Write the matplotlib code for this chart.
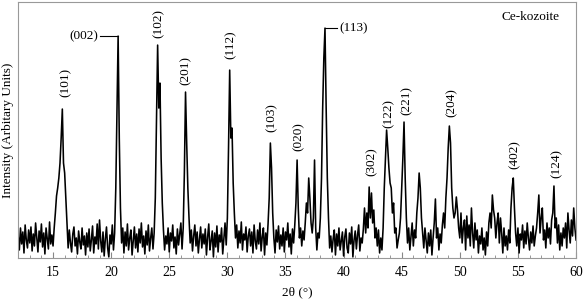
import numpy as np
import matplotlib.pyplot as plt

plt.rcParams['font.family'] = ['Liberation Serif', 'DejaVu Serif']

# intensity, 0.1 deg steps from 12.0 to 60.0 (arbitrary units)
intensity = [
    22, 8, 30, 14, 26, 5, 33, 18, 10, 28,        # 12
    15, 31, 7, 24, 12, 35, 20, 6, 27, 16,        # 13
    34, 11, 25, 4, 30, 19, 9, 36, 14, 23,        # 14
    12, 30, 45, 62, 70, 80, 95, 120, 149, 95,    # 15
    85, 60, 35, 10, 28, 15, 6, 24, 31, 12,       # 16
    20, 4, 27, 16, 9, 30, 13, 22, 3, 25,         # 17
    11, 29, 7, 18, 32, 5, 21, 14, 34, 9,         # 18
    38, 17, 6, 26, 2, 19, 31, 10, 1, 23,         # 19
    14, 33, 8, 25, 70, 145, 222, 120, 50, 15,    # 20
    30, 5, 26, 12, 34, 8, 20, 28, 3, 17,         # 21
    31, 10, 24, 6, 29, 15, 35, 11, 22, 4,        # 22
    27, 13, 33, 7, 20, 30, 9, 25, 60, 140,       # 23
    213, 150, 175, 100, 55, 28, 8, 22, 14, 30,   # 24
    6, 25, 17, 33, 10, 21, 4, 29, 13, 24,        # 25
    35, 9, 30, 85, 166, 115, 70, 40, 15, 28,     # 26
    7, 22, 33, 12, 26, 5, 19, 31, 10, 24,        # 27
    14, 29, 3, 21, 34, 8, 17, 27, 1, 25,         # 28
    11, 32, 6, 23, 16, 30, 4, 20, 35, 13,        # 29
    40, 110, 188, 120, 130, 75, 45, 20, 33, 10,  # 30
    27, 15, 36, 8, 24, 18, 31, 6, 22, 29,        # 31
    12, 26, 5, 33, 17, 9, 28, 14, 35, 7,         # 32
    21, 30, 3, 25, 13, 34, 60, 115, 90, 45,      # 33
    20, 5, 28, 16, 32, 9, 23, 12, 30, 6,         # 34
    26, 18, 35, 11, 24, 4, 29, 15, 33, 55,       # 35
    98, 50, 20, 30, 12, 27, 18, 35, 55, 45,      # 36
    80, 60, 35, 25, 40, 98, 30, 8, 25, 20,       # 37
    40, 80, 150, 200, 230, 150, 80, 40, 10, 22,  # 38
    6, 19, 28, 3, 24, 12, 30, 8, 17, 26,         # 39
    2, 21, 29, 10, 5, 25, 14, 31, 1, 18,         # 40
    27, 9, 23, 33, 7, 20, 15, 29, 50, 25,        # 41
    45, 30, 71, 40, 65, 35, 48, 20, 30, 12,      # 42
    28, 5, 20, 8, 30, 70, 100, 128, 110, 90,     # 43
    75, 70, 45, 55, 25, 30, 10, 18, 25, 40,      # 44
    70, 100, 136, 80, 40, 15, 30, 8, 22, 35,     # 45
    12, 28, 20, 45, 60, 85, 70, 40, 25, 10,      # 46
    30, 18, 5, 25, 12, 28, 3, 20, 35, 59,        # 47
    20, 30, 8, 24, 15, 33, 45, 30, 60, 80,       # 48
    110, 132, 115, 70, 50, 40, 45, 61, 48, 30,   # 49
    20, 45, 15, 30, 38, 8, 42, 20, 33, 12,       # 50
    50, 25, 10, 35, 18, 28, 5, 22, 14, 30,       # 51
    8, 20, 3, 26, 12, 35, 45, 30, 63, 48,        # 52
    40, 20, 35, 45, 15, 40, 25, 5, 30, 12,       # 53
    22, 8, 28, 15, 50, 70, 80, 50, 25, 12,       # 54
    30, 5, 24, 18, 33, 10, 27, 14, 35, 20,       # 55
    8, 26, 15, 32, 12, 22, 30, 45, 63, 25,       # 56
    40, 50, 18, 28, 10, 35, 20, 30, 14, 38,      # 57
    45, 72, 30, 40, 15, 33, 8, 25, 12, 30,       # 58
    20, 35, 10, 45, 28, 15, 38, 22, 50, 30,      # 59
    18,                                          # 60
]
two_theta = np.linspace(12, 60, len(intensity))

# vertical hkl labels (position, height)
hkl = ['(101)', '(102)', '(201)', '(112)', '(103)', '(020)',
       '(302)', '(122)', '(221)', '(204)', '(402)', '(124)']
hkl_x = [16.1, 24.05, 26.4, 30.3, 33.85, 36.1, 42.4, 43.85, 45.4, 49.3, 54.7, 58.3]
hkl_y = [176, 235, 188, 213, 140, 121, 96, 145, 158, 155, 103, 95]

# horizontal labels with leader lines to the two strongest peaks
lead_lbl = ['(002)', '(113)']
lead_peak = [20.6, 38.4]
lead_y = [222, 230]
lead_end = [19.05, 39.45]

fig = plt.figure(figsize=(5.86, 3.01), dpi=100)
ax = fig.add_axes([0.031, 0.143, 0.952, 0.85])

ax.plot(two_theta, intensity, color='black', lw=1.15)

for lbl, x, y in zip(hkl, hkl_x, hkl_y):
    ax.text(x, y, lbl, rotation=90, ha='center', va='center', fontsize=9.5)

for lbl, px, y, ex in zip(lead_lbl, lead_peak, lead_y, lead_end):
    ax.plot([px, ex], [y, y], color='black', lw=0.8)
    if ex < px:
        ax.text(ex - 0.2, y, lbl, ha='right', va='center', fontsize=9.5)
    else:
        ax.text(ex + 0.2, y, lbl, ha='left', va='center', fontsize=9.5)

ax.text(0.97, 0.94, 'Ce-kozoite', transform=ax.transAxes, ha='right', va='center', fontsize=9.5)

ax.set_xlim(12, 60)
ax.set_ylim(0, 256)
ax.set_xticks(range(15, 61, 5))
ax.set_xticks(range(12, 61), minor=True)
ax.set_yticks([])
ax.tick_params(axis='x', which='both', direction='in', colors='#888888', labelcolor='black',
               labelsize=10, pad=6)
ax.tick_params(axis='x', which='major', length=4)
ax.tick_params(axis='x', which='minor', length=2.5)
for s in ax.spines.values():
    s.set_color('#999999')
ax.set_xlabel('2θ (°)', fontsize=9.5, labelpad=5)
ax.set_ylabel('Intensity (Arbitary Units)', fontsize=9.5, labelpad=3)

fig.savefig('out.png', dpi=100)
